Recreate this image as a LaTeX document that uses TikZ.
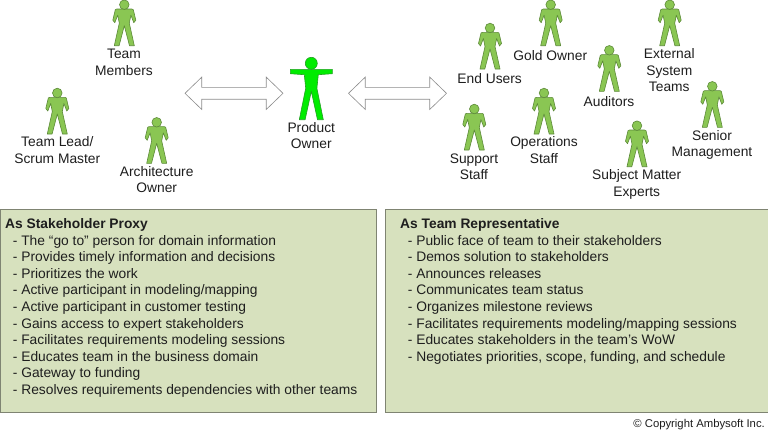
\documentclass[tikz,border=0pt]{standalone}
\usepackage{fontspec}
\setmainfont{Liberation Sans}
\usetikzlibrary{shapes.arrows}
\definecolor{figfill}{HTML}{8AC653}
\definecolor{figline}{HTML}{5C8A38}
\definecolor{pofill}{HTML}{00EC00}
\definecolor{poline}{HTML}{22A022}
\definecolor{boxfill}{HTML}{D7E1BE}
\definecolor{boxline}{HTML}{7F8472}
\definecolor{ink}{HTML}{1E1E1E}
\tikzset{
  person/.pic={
    \filldraw[fill=figfill,draw=figline,line width=.6pt,line join=round]
      (-7.5,4.3)--(7.5,4.3)--(9,5)--(11.5,15.5)--(9.5,18)--(6.6,10.5)--(5,18.5)--(10,41)--(5.2,41)--(0,21)
      --(-5.2,41)--(-10,41)--(-5,18.5)--(-6.6,10.5)--(-9.5,18)--(-11.5,15.5)--(-9,5)--cycle;
    \filldraw[fill=figfill,draw=figline,line width=.6pt] (0,0) circle[radius=4.8];
  },
  leader/.pic={
    \filldraw[fill=pofill,draw=poline,line width=.6pt,line join=round]
      (-6,6)--(6,6)--(21,6)--(21,10.4)--(7,11.4)--(5.6,25)--(12,56.4)--(6.2,56.4)--(0,28)
      --(-6.2,56.4)--(-12,56.4)--(-5.6,25)--(-7,11.4)--(-21,10.4)--(-21,6)--cycle;
    \filldraw[fill=pofill,draw=poline,line width=.6pt] (0,0) circle[radius=6];
  },
  lab/.style={font=\fontsize{13.8}{16.6}\selectfont,text=ink,align=center,inner sep=0pt},
  bigarrow/.style={double arrow,draw=black!45,fill=white,line width=.6pt,
    minimum width=32pt,minimum height=98pt,double arrow head extend=10.3pt,
    double arrow tip angle=88,inner sep=0pt,text width=0pt,text height=5.6pt,text depth=5.6pt},
  panel/.style={draw=boxline,fill=boxfill,line width=.8pt,minimum height=202.4pt,inner sep=0pt,anchor=north west},
  paneltext/.style={font=\fontsize{13.8}{16.6}\selectfont,text=ink,align=left,inner sep=0pt,anchor=north west},
}
\newcommand{\ind}{\hspace*{7.7pt}- }
\begin{document}
\begin{tikzpicture}[x=1pt,y=-1pt]
\useasboundingbox (0,0) rectangle (768,432);
\fill[white] (0,0) rectangle (768,432);

\pic (p1) at (124.3,4.7) {person};
\pic (p2) at (57.3,93) {person};
\pic (p3) at (156.7,122.3) {person};
\pic (po) at (311.3,63.3) {leader};
\pic (p4) at (490,28) {person};
\pic (p5) at (550.7,4.7) {person};
\pic (p6) at (669.7,4.7) {person};
\pic (p7) at (609.3,50.3) {person};
\pic (p8) at (712.3,86.3) {person};
\pic (p9) at (637,125.7) {person};
\pic (p10) at (544,93) {person};
\pic (p11) at (474.3,109) {person};

\node[lab] (l1) at (124,63.4) {\strut Team\\\strut Members};
\node[lab] (l2) at (57.3,151.7) {\strut Team Lead/\\\strut Scrum Master};
\node[lab] (l3) at (156.7,181) {\strut Architecture\\\strut Owner};
\node[lab] (lpo) at (311.3,137) {\strut Product\\\strut Owner};
\node[lab] (l4) at (489.7,80) {\strut End Users};
\node[lab] (l5) at (550.3,57) {\strut Gold Owner};
\node[lab] (l6) at (669.3,71.7) {\strut External\\\strut System\\\strut Teams};
\node[lab] (l7) at (609,103) {\strut Auditors};
\node[lab] (l8) at (712,145) {\strut Senior\\\strut Management};
\node[lab] (l9) at (636.7,184.4) {\strut Subject Matter\\\strut Experts};
\node[lab] (l10) at (544,151.7) {\strut Operations\\\strut Staff};
\node[lab] (l11) at (474,168.2) {\strut Support\\\strut Staff};

\node[bigarrow] (a1) at (234,93.3) {};
\node[bigarrow] (a2) at (397.5,93.3) {};

\node[panel,minimum width=375.7pt] (b1) at (0,209.3) {};
\node[panel,minimum width=382.7pt] (b2) at (385,209.3) {};

\node[paneltext] (t1) at (5,218.2) {\textbf{As Stakeholder Proxy}\\
\ind The “go to” person for domain information\\
\ind Provides timely information and decisions\\
\ind Prioritizes the work\\
\ind Active participant in modeling/mapping\\
\ind Active participant in customer testing\\
\ind Gains access to expert stakeholders\\
\ind Facilitates requirements modeling sessions\\
\ind Educates team in the business domain\\
\ind Gateway to funding\\
\ind Resolves requirements dependencies with other teams};

\node[paneltext] (t2) at (400,218.2) {\textbf{As Team Representative}\\
\ind Public face of team to their stakeholders\\
\ind Demos solution to stakeholders\\
\ind Announces releases\\
\ind Communicates team status\\
\ind Organizes milestone reviews\\
\ind Facilitates requirements modeling/mapping sessions\\
\ind Educates stakeholders in the team’s WoW\\
\ind Negotiates priorities, scope, funding, and schedule};

\node[font=\fontsize{11.3}{13}\selectfont,text=ink,inner sep=0pt,anchor=east] (c) at (765,425) {© Copyright Ambysoft Inc.};
\end{tikzpicture}
\end{document}
